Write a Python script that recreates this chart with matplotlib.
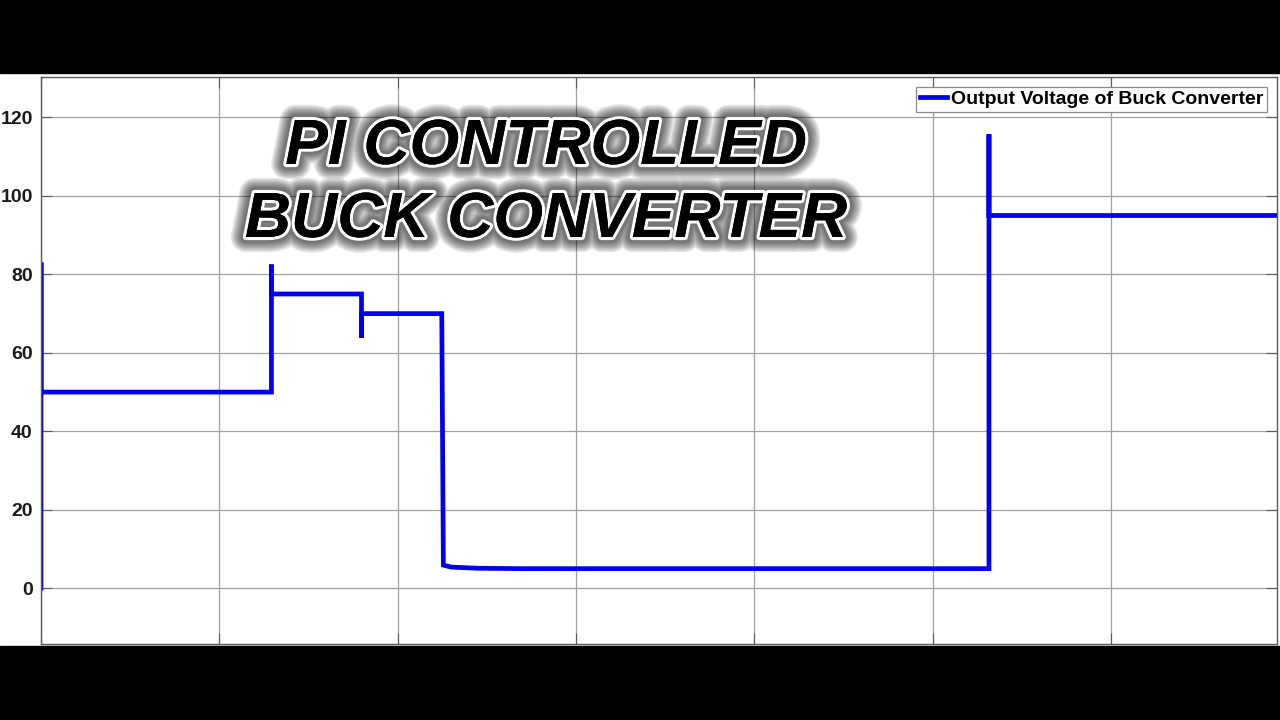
import matplotlib
matplotlib.use("Agg")
import matplotlib.pyplot as plt
import matplotlib.patheffects as pe
from matplotlib.patches import Rectangle

# Data (time in grid units, voltage in V)
time = [0.0, 0.0, 0.0, 0.004, 1.292, 1.292, 1.292, 1.300, 1.797, 1.797, 1.797, 1.806,
        2.247, 2.256, 2.30, 2.45, 2.70, 5.315, 5.315, 5.315, 5.328, 6.93]
voltage = [0.0, 83.0, 50.0, 50.0, 50.0, 82.5, 75.0, 75.0, 75.0, 63.8, 70.0, 70.0,
           70.0, 5.9, 5.4, 5.1, 5.0, 5.0, 115.7, 95.0, 95.0, 95.0]
yticks = [0, 20, 40, 60, 80, 100, 120]
xgrid = [0, 1, 2, 3, 4, 5, 6]
legend_label = "Output Voltage of Buck Converter"
title_line1 = "PI CONTROLLED"
title_line2 = "BUCK CONVERTER"

W, H = 1280, 720
fig = plt.figure(figsize=(12.8, 7.2), dpi=100, facecolor="white")
ax = fig.add_axes([41 / W, (H - 644) / H, (1277 - 41) / W, (644 - 77) / H])

ax.plot(time, voltage, color="#0000ee", lw=3.4, solid_joinstyle="miter",
        label=legend_label)

ax.set_xlim(0, 6.93)
ax.set_ylim(-14.2, 130.3)
ax.set_yticks(yticks)
ax.set_xticks(xgrid)
ax.set_xticklabels([])
ax.grid(True, color="#a0a0a0", lw=0.9)
ax.set_axisbelow(True)
ax.tick_params(axis="both", direction="in", length=8, width=0.8,
               color="#5a5a5a", top=True, right=True)
ax.tick_params(axis="y", labelsize=14, labelcolor="#1a1a1a", pad=6)
for lab in ax.get_yticklabels():
    lab.set_fontweight("bold")
    lab.set_family("Liberation Sans")
for s in ax.spines.values():
    s.set_color("#5a5a5a")
    s.set_linewidth(1.0)

leg = ax.legend(loc="upper right", prop={"family": "Liberation Sans",
                "weight": "bold", "size": 14},
                handlelength=1.4, handletextpad=0.2, borderpad=0.2,
                borderaxespad=0.5, fancybox=False, framealpha=1)
leg.get_frame().set_edgecolor("#8a8a8a")
leg.get_frame().set_linewidth(0.9)
for l in leg.get_lines():
    l.set_linewidth(3.4)

# Title overlay with soft glow
effects = []
for lw_ in range(22, 6, -2):
    effects.append(pe.withStroke(linewidth=lw_, foreground=(0, 0, 0, 0.09)))
effects.append(pe.withStroke(linewidth=4.5, foreground="white"))
effects.append(pe.Normal())
for txt, yc in [(title_line1, 147), (title_line2, 220)]:
    fig.text(546 / W, 1 - yc / H, txt, ha="center", va="center",
             fontsize=46, fontweight="bold", fontstyle="italic",
             family="Liberation Sans", color="black",
             path_effects=effects)

# Black bands
fig.patches.append(Rectangle((0, 1 - 73 / H), 1, 73 / H, transform=fig.transFigure,
                             color="black", zorder=10))
fig.patches.append(Rectangle((0, 0), 1, (H - 646) / H, transform=fig.transFigure,
                             color="black", zorder=10))

fig.savefig("out.png", dpi=100, facecolor="white")
